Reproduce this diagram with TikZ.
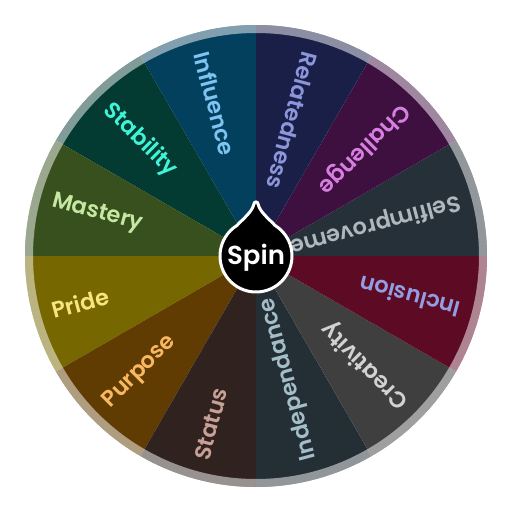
\documentclass[tikz,border=0pt]{standalone}
\usepackage{fontspec}
\setmainfont{Poppins}
\newfontfamily\wheelfont{Poppins SemiBold}
\newfontfamily\spinfont{Poppins SemiBold}
\definecolor{cSelf}{HTML}{253038}
\definecolor{cChal}{HTML}{3D1040}
\definecolor{cRela}{HTML}{1A1F48}
\definecolor{cInfl}{HTML}{03405E}
\definecolor{cStab}{HTML}{033A32}
\definecolor{cMast}{HTML}{38501D}
\definecolor{cPrid}{HTML}{776700}
\definecolor{cPurp}{HTML}{603C03}
\definecolor{cStat}{HTML}{30231F}
\definecolor{cInde}{HTML}{232E35}
\definecolor{cCrea}{HTML}{3F3F3F}
\definecolor{cIncl}{HTML}{5D0A25}
\definecolor{tSelf}{HTML}{B0B8BE}
\definecolor{tChal}{HTML}{D77FE0}
\definecolor{tRela}{HTML}{8C96DA}
\definecolor{tInfl}{HTML}{7EC4F2}
\definecolor{tStab}{HTML}{3EF5D8}
\definecolor{tMast}{HTML}{C6E8A2}
\definecolor{tPrid}{HTML}{F7E67C}
\definecolor{tPurp}{HTML}{F8B862}
\definecolor{tStat}{HTML}{C9A098}
\definecolor{tInde}{HTML}{A3BDC9}
\definecolor{tCrea}{HTML}{D2D2D2}
\definecolor{tIncl}{HTML}{939EE2}
\tikzset{
  seglabel/.style={anchor=west, inner sep=0pt, font=\wheelfont\fontsize{22.5}{22.5}\selectfont},
}
\begin{document}
\begin{tikzpicture}[x=1pt,y=1pt]
\useasboundingbox (-256,-256) rectangle (256,256);
\foreach \a/\c/\t/\lab [count=\i] in {
  0/cSelf/tSelf/Selfimprovement,
  30/cChal/tChal/Challenge,
  60/cRela/tRela/Relatedness,
  90/cInfl/tInfl/Influence,
  120/cStab/tStab/Stability,
  150/cMast/tMast/Mastery,
  180/cPrid/tPrid/Pride,
  210/cPurp/tPurp/Purpose,
  240/cStat/tStat/Status,
  270/cInde/tInde/Independance,
  300/cCrea/tCrea/Creativity,
  330/cIncl/tIncl/Inclusion}{
  \fill[\c] (0,0) -- (\a:231) arc[start angle=\a, end angle=\a+30, radius=231] -- cycle;
  \node[seglabel, text=\t, rotate=\a+195] (lab\i) at (\a+15:211) {\lab};
}
\draw[white, opacity=0.5, line width=8] (0,0) circle (227);
\path[fill=black, draw=white, line width=3]
  (122:36) .. controls (-12,38) and (-4,44) .. (-2,52)
  arc[start angle=180, end angle=0, radius=2]
  .. controls (4,44) and (12,38) .. (58:36)
  arc[start angle=58, end angle=-238, radius=36] -- cycle;
\node[text=white, font=\spinfont\fontsize{26}{26}\selectfont, inner sep=0pt] (spin) at (0,-2) {Spin};
\end{tikzpicture}
\end{document}
